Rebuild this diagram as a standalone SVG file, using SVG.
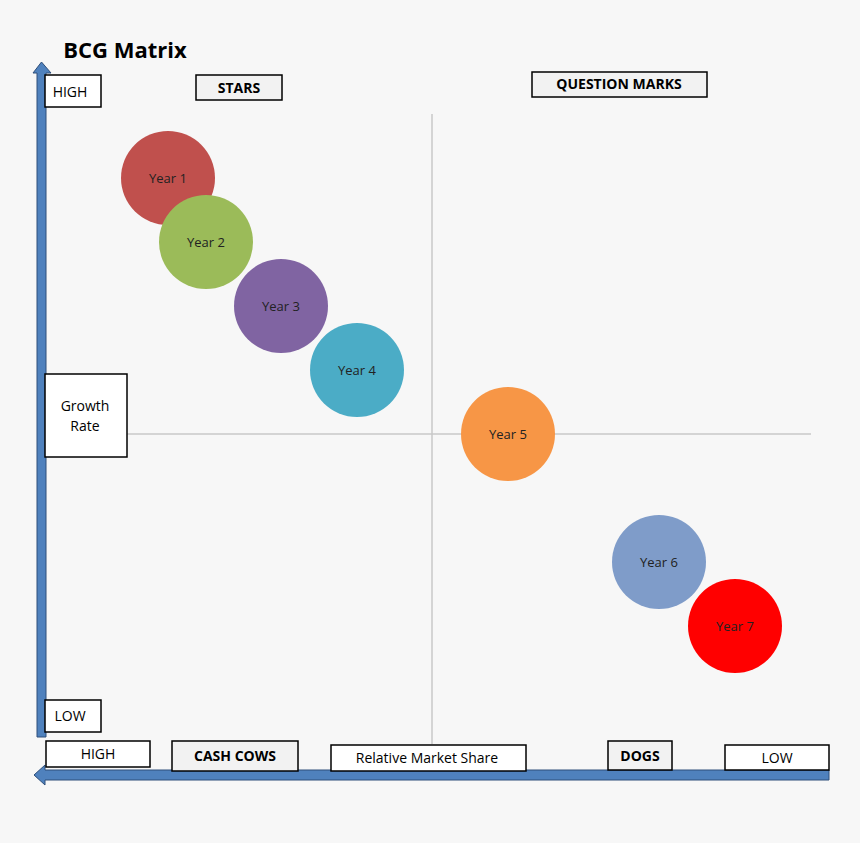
<svg xmlns="http://www.w3.org/2000/svg" width="860" height="843" viewBox="0 0 860 843">
<style>
.lb{fill:#fff;stroke:#000;stroke-width:1.5}
.hd{fill:#f2f2f2;stroke:#000;stroke-width:1.5}
text{font-family:"Open Sans","DejaVu Sans",sans-serif;font-size:14px;text-anchor:middle;fill:#000}
.b{font-weight:bold}
.c{font-size:13px;fill:#222}
</style>
<rect width="860" height="843" fill="#f7f7f7"/>
<g id="connectors">
<line x1="432" y1="114" x2="432" y2="744" stroke="#c8c8c8" stroke-width="1.5"/>
<line x1="126" y1="434" x2="811" y2="434" stroke="#c8c8c8" stroke-width="1.5"/>
<path d="M37,737 V73 H33 L41.5,62 L51,73 H46 V737 Z" fill="#4f81bd" stroke="#2f4f7a" stroke-width="1"/>
<path d="M829,770 H45 V765 L34,775 L45,785 V780 H829 Z" fill="#4f81bd" stroke="#2f4f7a" stroke-width="1"/>
</g>
<text x="125" y="58" class="b" style="font-size:22px">BCG Matrix</text>
<g id="high-y"><rect class="lb" x="45" y="75" width="56" height="32"/><text x="70" y="97">HIGH</text></g>
<g id="stars"><rect class="hd" x="196" y="75" width="86" height="25"/><text x="239" y="93" class="b">STARS</text></g>
<g id="qm"><rect class="hd" x="532" y="72" width="175" height="25"/><text x="619" y="89" class="b">QUESTION MARKS</text></g>
<g id="growth"><rect class="lb" x="45" y="374" width="82" height="83"/><text x="85" y="411">Growth</text><text x="85" y="431">Rate</text></g>
<g id="low-y"><rect class="lb" x="45" y="700" width="56" height="32"/><text x="70" y="721">LOW</text></g>
<g id="high-x"><rect class="lb" x="46" y="741" width="104" height="26"/><text x="98" y="759">HIGH</text></g>
<g id="cows"><rect class="hd" x="172" y="741" width="126" height="30"/><text x="235" y="761" class="b">CASH COWS</text></g>
<g id="rms"><rect class="lb" x="331" y="745" width="195" height="26"/><text x="427" y="763">Relative Market Share</text></g>
<g id="dogs"><rect class="hd" x="608" y="741" width="64" height="29"/><text x="640" y="761" class="b">DOGS</text></g>
<g id="low-x"><rect class="lb" x="725" y="745" width="104" height="25"/><text x="777" y="763">LOW</text></g>
<g id="y1"><circle cx="168" cy="178" r="47" fill="#c0504d"/><text x="168" y="183" class="c">Year 1</text></g>
<g id="y2"><circle cx="206" cy="242" r="47" fill="#9bbb59"/><text x="206" y="247" class="c">Year 2</text></g>
<g id="y3"><circle cx="281" cy="306" r="47" fill="#8064a2"/><text x="281" y="311" class="c">Year 3</text></g>
<g id="y4"><circle cx="357" cy="370" r="47" fill="#4bacc6"/><text x="357" y="375" class="c">Year 4</text></g>
<g id="y5"><circle cx="508" cy="434" r="47" fill="#f79646"/><text x="508" y="439" class="c">Year 5</text></g>
<g id="y6"><circle cx="659" cy="562" r="47" fill="#7f9cc9"/><text x="659" y="567" class="c">Year 6</text></g>
<g id="y7"><circle cx="735" cy="626" r="47" fill="#ff0000"/><text x="735" y="631" class="c">Year 7</text></g>
</svg>
